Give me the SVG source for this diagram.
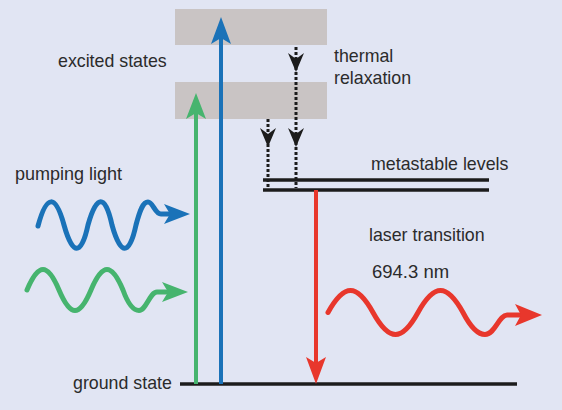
<svg xmlns="http://www.w3.org/2000/svg" width="562" height="410" viewBox="0 0 562 410">
  <style>
    .lbl { font-family: "Liberation Sans", Arial, sans-serif; font-size: 17.8px; fill: #2b2b2b; }
    .band { fill: #c9c4c4; }
    .lvl { stroke: #1c1c1c; stroke-width: 3.5; fill: none; }
    .dot { stroke: #1c1c1c; stroke-width: 3; stroke-dasharray: 3 2; fill: none; }
    .wave { fill: none; stroke-width: 5; stroke-linecap: round; stroke-linejoin: round; }
  </style>
  <rect width="562" height="410" fill="#e1e5f3"/>

  <g id="excited-states">
    <rect class="band" x="175" y="9" width="152" height="36"/>
    <rect class="band" x="175" y="82" width="152" height="37"/>
    <text class="lbl" x="58" y="67">excited states</text>
  </g>

  <g id="metastable-levels">
    <line class="lvl" x1="263" y1="180" x2="489" y2="180"/>
    <line class="lvl" x1="263" y1="190" x2="489" y2="190"/>
    <text class="lbl" x="371" y="170">metastable levels</text>
  </g>

  <g id="ground-state">
    <line class="lvl" x1="180" y1="384" x2="517" y2="384"/>
    <text class="lbl" x="73" y="389">ground state</text>
  </g>

  <g id="thermal-relaxation-label">
    <text class="lbl" x="334" y="62">thermal</text>
    <text class="lbl" x="334" y="84">relaxation</text>
  </g>

  <g id="pumping-light">
    <text class="lbl" x="15" y="180" style="font-size:18px">pumping light</text>
    <path class="wave" stroke="#1a72b8" d="M38 226 C 46.6 194 55.4 194 64 225 C 72.6 256 81.4 256 88 225 C 96.6 194 105.4 194 112 225 C 120.6 256 129.4 256 136 225 C 140 210 143 202 148 202 C 153 202 155 214 161 214 L 170 214"/>
    <polygon fill="#1a72b8" points="190,214 164,204 170,214 164,224"/>
    <path class="wave" stroke="#46b46e" d="M27 290 C 38.5 262.7 47.5 262.7 59 290 C 70.5 317.3 79.5 317.3 91 290 C 102.5 262.7 111.5 262.7 123 290 C 128 304 133 310.5 139 310.5 C 146 310.5 150 292 157 292 L 166 292"/>
    <polygon fill="#46b46e" points="188,292 162,282 168,292 162,302"/>
  </g>

  <g id="laser-transition">
    <text class="lbl" x="369" y="241">laser transition</text>
    <text class="lbl" x="372" y="278" style="font-size:18.5px">694.3 nm</text>
    <path class="wave" stroke="#e8372c" d="M328 312.5 C 344.2 283.2 356.8 283.2 373 312.5 C 389.2 341.8 401.8 341.8 418 312.5 C 434.2 283.2 446.8 283.2 463 312.5 C 470 326 477 334.5 485 334.5 C 495 334.5 499 315 507 315 L 520 315"/>
    <polygon fill="#e8372c" points="542,315 515,304 521,315 515,326"/>
  </g>

  <g id="connectors">
    <line x1="196" y1="384" x2="196" y2="112" stroke="#46b46e" stroke-width="4"/>
    <polygon fill="#46b46e" points="196,93 186,119 196,113 206,119"/>
    <line x1="221" y1="384" x2="221" y2="36" stroke="#1a72b8" stroke-width="4"/>
    <polygon fill="#1a72b8" points="221,17 211,44 221,38 231,44"/>
    <line x1="316" y1="190" x2="316" y2="365" stroke="#e8372c" stroke-width="4"/>
    <polygon fill="#e8372c" points="316,384 306,357 316,363 326,357"/>
    <line class="dot" x1="296" y1="47" x2="296" y2="188"/>
    <line class="dot" x1="268" y1="119" x2="268" y2="188"/>
    <polygon fill="#1c1c1c" points="296,72 288,53 296,59 304,53"/>
    <polygon fill="#1c1c1c" points="296,147 288,128 296,134 304,128"/>
    <polygon fill="#1c1c1c" points="268,147 260,128 268,134 276,128"/>
  </g>
</svg>
